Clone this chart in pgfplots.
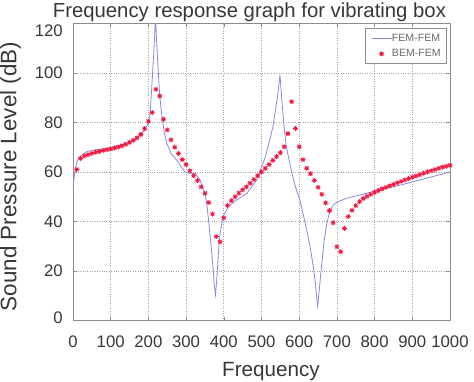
\documentclass[border=0pt]{standalone}
\usepackage{pgfplots}
\pgfplotsset{compat=1.18}
\usepackage{fontspec}
\setmainfont{Liberation Sans}
\definecolor{femblue}{RGB}{135,135,230}
\definecolor{bemred}{RGB}{240,25,65}
\definecolor{txtgray}{RGB}{55,55,55}
\definecolor{axgray}{RGB}{140,140,140}
\pgfdeclareplotmark{mstar}{%
  \pgfpathmoveto{\pgfqpoint{-\pgfplotmarksize}{0pt}}\pgfpathlineto{\pgfqpoint{\pgfplotmarksize}{0pt}}%
  \pgfpathmoveto{\pgfqpoint{0pt}{-\pgfplotmarksize}}\pgfpathlineto{\pgfqpoint{0pt}{\pgfplotmarksize}}%
  \pgfpathmoveto{\pgfqpoint{-0.72\pgfplotmarksize}{-0.72\pgfplotmarksize}}\pgfpathlineto{\pgfqpoint{0.72\pgfplotmarksize}{0.72\pgfplotmarksize}}%
  \pgfpathmoveto{\pgfqpoint{-0.72\pgfplotmarksize}{0.72\pgfplotmarksize}}\pgfpathlineto{\pgfqpoint{0.72\pgfplotmarksize}{-0.72\pgfplotmarksize}}%
  \pgfusepathqstroke}
\pgfplotsset{
  femleg/.style={legend image code/.code={\draw[##1] (0bp,0bp) -- (20bp,0bp);}},
  bemleg/.style={legend image code/.code={\draw[mark repeat=2,mark phase=2,##1] plot coordinates {(0bp,0bp) (10bp,0bp) (20bp,0bp)};}},
}
\begin{document}
\begin{tikzpicture}
\begin{axis}[
  at={(0,0)}, anchor=south west,
  scale only axis, width=377bp, height=297bp,
  xmin=0, xmax=1000, ymin=0, ymax=120,
  xtick={0,100,...,1000}, ytick={0,20,...,120},
  yticklabels={\raisebox{3bp}[\height][\depth]{0},20,40,60,80,100,\raisebox{-7bp}[\height][\depth]{120}},
  tick align=inside, major tick length=4bp,
  axis line style={axgray, line width=0.8bp},
  every tick/.style={axgray, line width=0.6bp},
  grid=major, major grid style={axgray!80, dotted, line width=0.7bp},
  /pgf/number format/assume math mode=true,
  /pgf/number format/1000 sep={},
  ticklabel style={font=\fontsize{16.8}{18}\selectfont, text=txtgray},
  yticklabel style={inner sep=0pt, anchor=east, xshift=-10bp},
  xticklabel style={inner sep=0pt, anchor=north, yshift=-15bp},
  every axis title shift=0pt,
  title={Frequency response graph for vibrating box},
  title style={at={(axis description cs:0.468,1.020)}, anchor=base, inner sep=0pt, font=\fontsize{20.4}{22}\selectfont, text=txtgray},
  xlabel={Frequency},
  xlabel style={at={(axis description cs:0.525,-0.190)}, anchor=base, inner sep=0pt, font=\fontsize{20.7}{22}\selectfont, text=txtgray},
  ylabel={Sound Pressure Level (dB)},
  ylabel style={at={(axis description cs:-0.150,0.485)}, anchor=base, inner sep=0pt, font=\fontsize{22.5}{24}\selectfont, text=txtgray},
  clip mode=individual,
  legend style={at={(axis description cs:0.992,0.985)}, anchor=north east, draw=axgray, line width=0.6bp,
    font=\fontsize{10.6}{12}\selectfont, text=txtgray!75, inner xsep=6bp, inner ysep=5.5bp, row sep=7bp,
    nodes={inner sep=0pt}, cells={anchor=west}},
]
\addplot[femblue, line width=0.8bp, no markers, femleg] coordinates {
(0,54) (5,60) (10,64) (15,65.5) (20,66.5) (36,68.2) (60,69) (98,69.6) (142,71.6) (160,72.8)
(178,75) (190,77) (200,79.7) (205,84) (209,94.5) (213,105) (217,116) (219,125) (221,115)
(226,101) (230,91) (235,83.7) (242,76) (249,71.6) (260,67.5) (275,64.8) (297,60) (310,59.5)
(324,59.5) (337,56.8) (345,53.5) (350,51.4) (355,47) (360,40) (365,32) (370,24) (375,14)
(378,10.3) (382,18) (386,28) (390,35) (398,42) (412,46) (434,48.7) (461,51.4) (487,56.7)
(500,62) (510,66) (522,73) (530,78) (537,85) (542,90) (546,95) (549,99.2) (552,93) (556,85)
(560,78) (566,70) (573,65) (580,60) (590,54) (602,48.6) (615,40) (629,29.8) (636,23)
(642,16.4) (646,10) (649,5.9) (653,12) (657,18.5) (660,23) (666,32) (673,39) (680,43.5)
(690,46.7) (700,47.8) (726,49.4) (779,51.4) (800,52.3) (850,54) (900,56) (950,58) (1000,60)
};
\addlegendentry{FEM-FEM\hspace{16bp}}
\addplot[bemred, only marks, mark=mstar, mark size=2.5bp, line width=0.8bp, bemleg] coordinates {
(10,61) (20,65.5) (30,66.5) (40,67) (50,67.5) (60,68) (70,68.3) (80,68.7) (90,69) (100,69.3)
(110,69.7) (120,70.1) (130,70.6) (140,71.2) (150,72) (160,72.8) (170,73.8) (180,75.2) (190,77.5)
(200,80.5) (210,84) (220,93.4) (230,90.7) (240,81.3) (250,77) (260,73) (270,70) (280,67.5)
(290,65) (300,63) (310,60.5) (320,58.5) (330,56.5) (340,54) (350,51.4) (360,47.7) (370,43)
(380,33.9) (390,31.8) (400,41.5) (410,46.5) (420,48.4) (430,50) (440,51.5) (450,52.8) (460,54)
(470,55.5) (480,57) (490,58.5) (500,60) (510,61.5) (520,63) (530,64.7) (540,66.2) (550,67.8)
(560,70.2) (570,75.5) (580,88.4) (590,77.6) (600,70.2) (610,65) (620,61.5) (630,59.3) (640,56.6)
(650,53.8) (660,51) (670,47.5) (680,44.4) (690,39.5) (700,29.8) (710,27.8) (720,37.2) (730,42)
(740,44.5) (750,46.4) (760,48) (770,49.3) (780,50.2) (790,51) (800,51.8) (810,52.5) (820,53.2)
(830,53.8) (840,54.4) (850,55) (860,55.6) (870,56.2) (880,56.8) (890,57.3) (900,57.9) (910,58.4)
(920,58.9) (930,59.5) (940,60) (950,60.5) (960,61) (970,61.5) (980,62) (990,62.3) (1000,62.7)
};
\addlegendentry{BEM-FEM\hspace{16bp}}
\end{axis}
\pgfresetboundingbox
\path[use as bounding box] (-73bp,-61.5bp) rectangle (401bp,320.5bp);
\end{tikzpicture}
\end{document}
